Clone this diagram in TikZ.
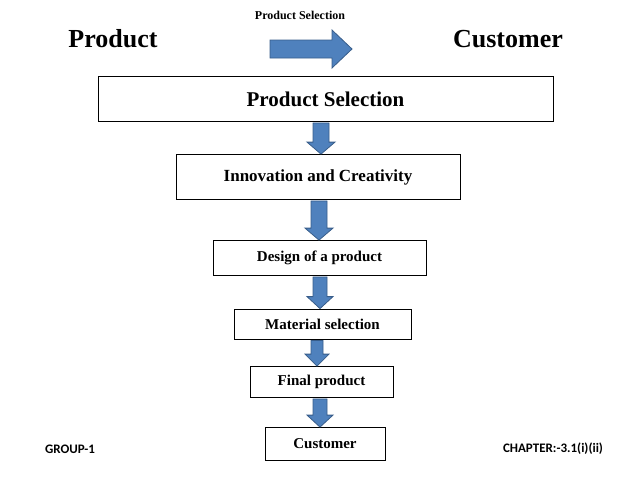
\documentclass[tikz,border=0pt]{standalone}
\usepackage{fontspec}
\setmainfont{Liberation Serif}
\newfontfamily\carl{Carlito}
\begin{document}
\begin{tikzpicture}[x=1pt,y=-1pt]
\definecolor{af}{HTML}{4F81BD}\definecolor{ab}{HTML}{385D8A}
\tikzset{bx/.style={draw,thick,inner sep=0pt,font=\bfseries},
 arr/.style={fill=af,draw=ab,line width=0.8pt}}
\useasboundingbox (0,0) rectangle (638,479);
\node[font=\bfseries\fontsize{12}{14}\selectfont] (t) at (300,15) {Product Selection};
\node[font=\bfseries\fontsize{26}{30}\selectfont] (p) at (113,39) {Product};
\node[font=\bfseries\fontsize{26}{30}\selectfont] (c) at (508,39) {Customer};
\draw[arr] (270,40)--(332,40)--(332,30)--(352,49)--(332,68)--(332,58)--(270,58)--cycle;
\node[bx,minimum width=455,minimum height=45,font=\bfseries\fontsize{21}{24}\selectfont] (b1) at (325.5,99) {Product Selection};
\node[bx,minimum width=284,minimum height=45,font=\bfseries\fontsize{17}{20}\selectfont] (b2) at (318,177) {Innovation and Creativity};
\node[bx,minimum width=213,minimum height=35,font=\bfseries\fontsize{15}{18}\selectfont] (b3) at (319.5,258) {Design of a product};
\node[bx,minimum width=177,minimum height=30,font=\bfseries\fontsize{15}{18}\selectfont] (b4) at (322.5,324) {Material selection};
\node[bx,minimum width=143,minimum height=31,font=\bfseries\fontsize{15}{18}\selectfont] (b5) at (321.5,382) {Final product};
\node[bx,minimum width=120,minimum height=33,font=\bfseries\fontsize{15}{18}\selectfont] (b6) at (325,444) {Customer};
\foreach \a/\b/\x/\w in {b1/b2/321/8,b2/b3/319/8,b3/b4/320/7,b4/b5/317/6,b5/b6/320/7}{
 \path (\a.south) ++(0,1) coordinate (s) (\b.north) coordinate (e);
 \draw[arr] (\x-\w,0 |- s) -- (\x+\w,0 |- s) -- ([yshift=12]\x+\w,0 |- e) -- ([yshift=12]\x+\w+6,0 |- e) -- (\x,0 |- e) -- ([yshift=12]\x-\w-6,0 |- e) -- ([yshift=12]\x-\w,0 |- e) -- cycle;}
\node[font=\carl\bfseries\fontsize{13}{15}\selectfont] (g) at (70,449) {GROUP-1};
\node[font=\carl\bfseries\fontsize{13}{15}\selectfont] (ch) at (553,449) {CHAPTER:-3.1(i)(ii)};
\end{tikzpicture}
\end{document}
